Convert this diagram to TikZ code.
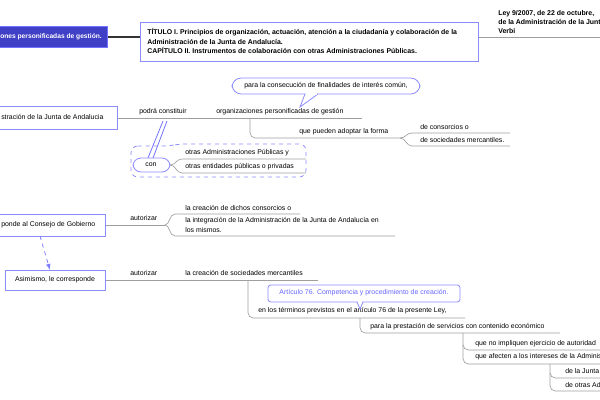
\documentclass[tikz,border=0pt]{standalone}
\usepackage{fontspec}
\setmainfont{Liberation Sans}
\begin{document}
\begin{tikzpicture}[x=0.75pt,y=-0.75pt,
 every node/.style={font=\fontsize{5.2}{6.8}\selectfont,inner sep=0pt},
 t/.style={anchor=west},
 ln/.style={draw=gray!75,line width=0.5pt},
 bx/.style={draw=blue!45,line width=0.6pt,fill=white},
 cb/.style={draw=blue!45,line width=0.6pt,fill=white,rounded corners=7pt}]
\path[use as bounding box] (0,0) rectangle (600,400);
% top
\draw[line width=1pt,black!80] (108,37) -- (140,37);
\node[draw=blue!55,fill=blue!70!black!75,minimum width=120pt,minimum height=16pt,anchor=east] (root) at (108,37) {};
\node[t,text=white,font=\fontsize{5}{6.5}\selectfont\bfseries] (rt) at (0,37) {ones personificadas de gestión.};
\draw[ln] (478,37) -- (600,37);
\draw[bx] (140,22) rectangle (478,61);
\node[t,align=left,font=\fontsize{5.2}{6.8}\selectfont\bfseries] (tit) at (147,41) {TÍTULO I. Principios de organización, actuación, atención a la ciudadanía y colaboración de la\\Administración de la Junta de Andalucía.\\CAPÍTULO II. Instrumentos de colaboración con otras Administraciones Públicas.};
\node[t,align=left,font=\fontsize{5.2}{6.8}\selectfont\bfseries] (ley) at (498,22) {Ley 9/2007, de 22 de octubre,\\de la Administración de la Junta\\Verbi};
% second block
\draw[ln] (117,118) -- (362,118);
\draw[bx] (-5,106) rectangle (117,129);
\node[t] (adm) at (1,117) {stración de la Junta de Andalucia};
\node[t] (pc) at (139,112) {podrá constituir};
\node[t] (org) at (216,112) {organizaciones personificadas de gestión};
\draw[cb] (232,78) rectangle (420,94);
\fill[white,draw=blue!45,line width=0.6pt] (305,94) -- (300,107) -- (318,94);
\draw[white,line width=1pt] (306,94) -- (317,94);
\node (cons) at (326,86) {para la consecución de finalidades de interés común,};
\draw[ln,rounded corners=4pt] (250,118) -- (250,138) -- (400,138);
\node[t] (qp) at (299,132) {que pueden adoptar la forma};
\draw[ln] (400,138) .. controls (406,138) and (406,133) .. (412,133) -- (510,133);
\draw[ln] (400,138) .. controls (406,138) and (406,146) .. (412,146) -- (510,146);
\node[t] (dc) at (420,127) {de consorcios o};
\node[t] (ds) at (420,140) {de sociedades mercantiles.};
\draw[blue!45,dashed,rounded corners=5pt,line width=0.6pt] (131,146) -- (168,146) -- (180,144) -- (306,144) -- (306,177) -- (131,177) -- cycle;
\draw[ln] (170,165) .. controls (176,165) and (176,159) .. (182,159) -- (306,159);
\draw[ln] (170,165) .. controls (176,165) and (176,173) .. (182,173) -- (306,173);
\draw[blue!55,line width=0.6pt] (163,121) -- (148,158) (167,121) -- (153,158);
\draw[cb,rounded corners=6pt] (133,158) rectangle (170,172);
\node (con) at (151,165) {con};
\node[t] (o1) at (185,153) {otras Administraciones Públicas y};
\node[t] (o2) at (185,167) {otras entidades públicas o privadas};
% third block
\draw[ln] (105,225) -- (165,225);
\draw[bx] (-5,214) rectangle (105,236);
\node[t] (cg) at (1,225) {ponde al Consejo de Gobierno};
\node[t] (a1) at (130,218) {autorizar};
\draw[ln] (165,225) .. controls (170,225) and (169,214) .. (175,214) -- (300,214);
\draw[ln] (165,225) .. controls (170,225) and (169,236) .. (175,236) -- (395,236);
\node[t] (c1) at (185,208) {la creación de dichos consorcios o};
\node[t,align=left] (c2) at (185,225) {la integración de la Administración de la Junta de Andalucía en\\los mismos.};
\draw[blue!50,dashed,-latex,line width=0.6pt] (40,236) -- (50,270);
% fourth block
\draw[ln] (105,280) -- (318,280);
\draw[bx] (5,270) rectangle (105,290);
\node (as) at (55,280) {Asimismo, le corresponde};
\node[t] (a2) at (130,273) {autorizar};
\node[t] (cs) at (185,273) {la creación de sociedades mercantiles};
\draw[ln,rounded corners=4pt] (248,280) -- (248,318) -- (465,318);
\node[t] (et) at (258,311) {en los términos previstos en el artículo 76 de la presente Ley,};
\draw[bx,rounded corners=2pt] (268,285) rectangle (460,302);
\fill[white,draw=blue!45,line width=0.6pt] (357,302) -- (360,309) -- (363,302);
\draw[white,line width=1pt] (358,302) -- (362,302);
\node[text=blue!60] (art) at (364,293) {Artículo 76. Competencia y procedimiento de creación.};
\draw[ln,rounded corners=4pt] (360,318) -- (360,333) -- (560,333);
\node[t] (pp) at (370,327) {para la prestación de servicios con contenido económico};
\draw[ln,rounded corners=4pt] (463,333) -- (463,350) -- (600,350);
\draw[ln,rounded corners=4pt] (463,345) -- (463,364) -- (600,364);
\node[t] (q1) at (475,344) {que no impliquen ejercicio de autoridad};
\node[t] (q2) at (475,357) {que afecten a los intereses de la Administración};
\draw[ln,rounded corners=4pt] (550,364) -- (550,378) -- (600,378);
\draw[ln,rounded corners=4pt] (550,373) -- (550,391) -- (600,391);
\node[t] (j1) at (565,371) {de la Junta};
\node[t] (j2) at (565,385) {de otras Administraciones};
\end{tikzpicture}
\end{document}
